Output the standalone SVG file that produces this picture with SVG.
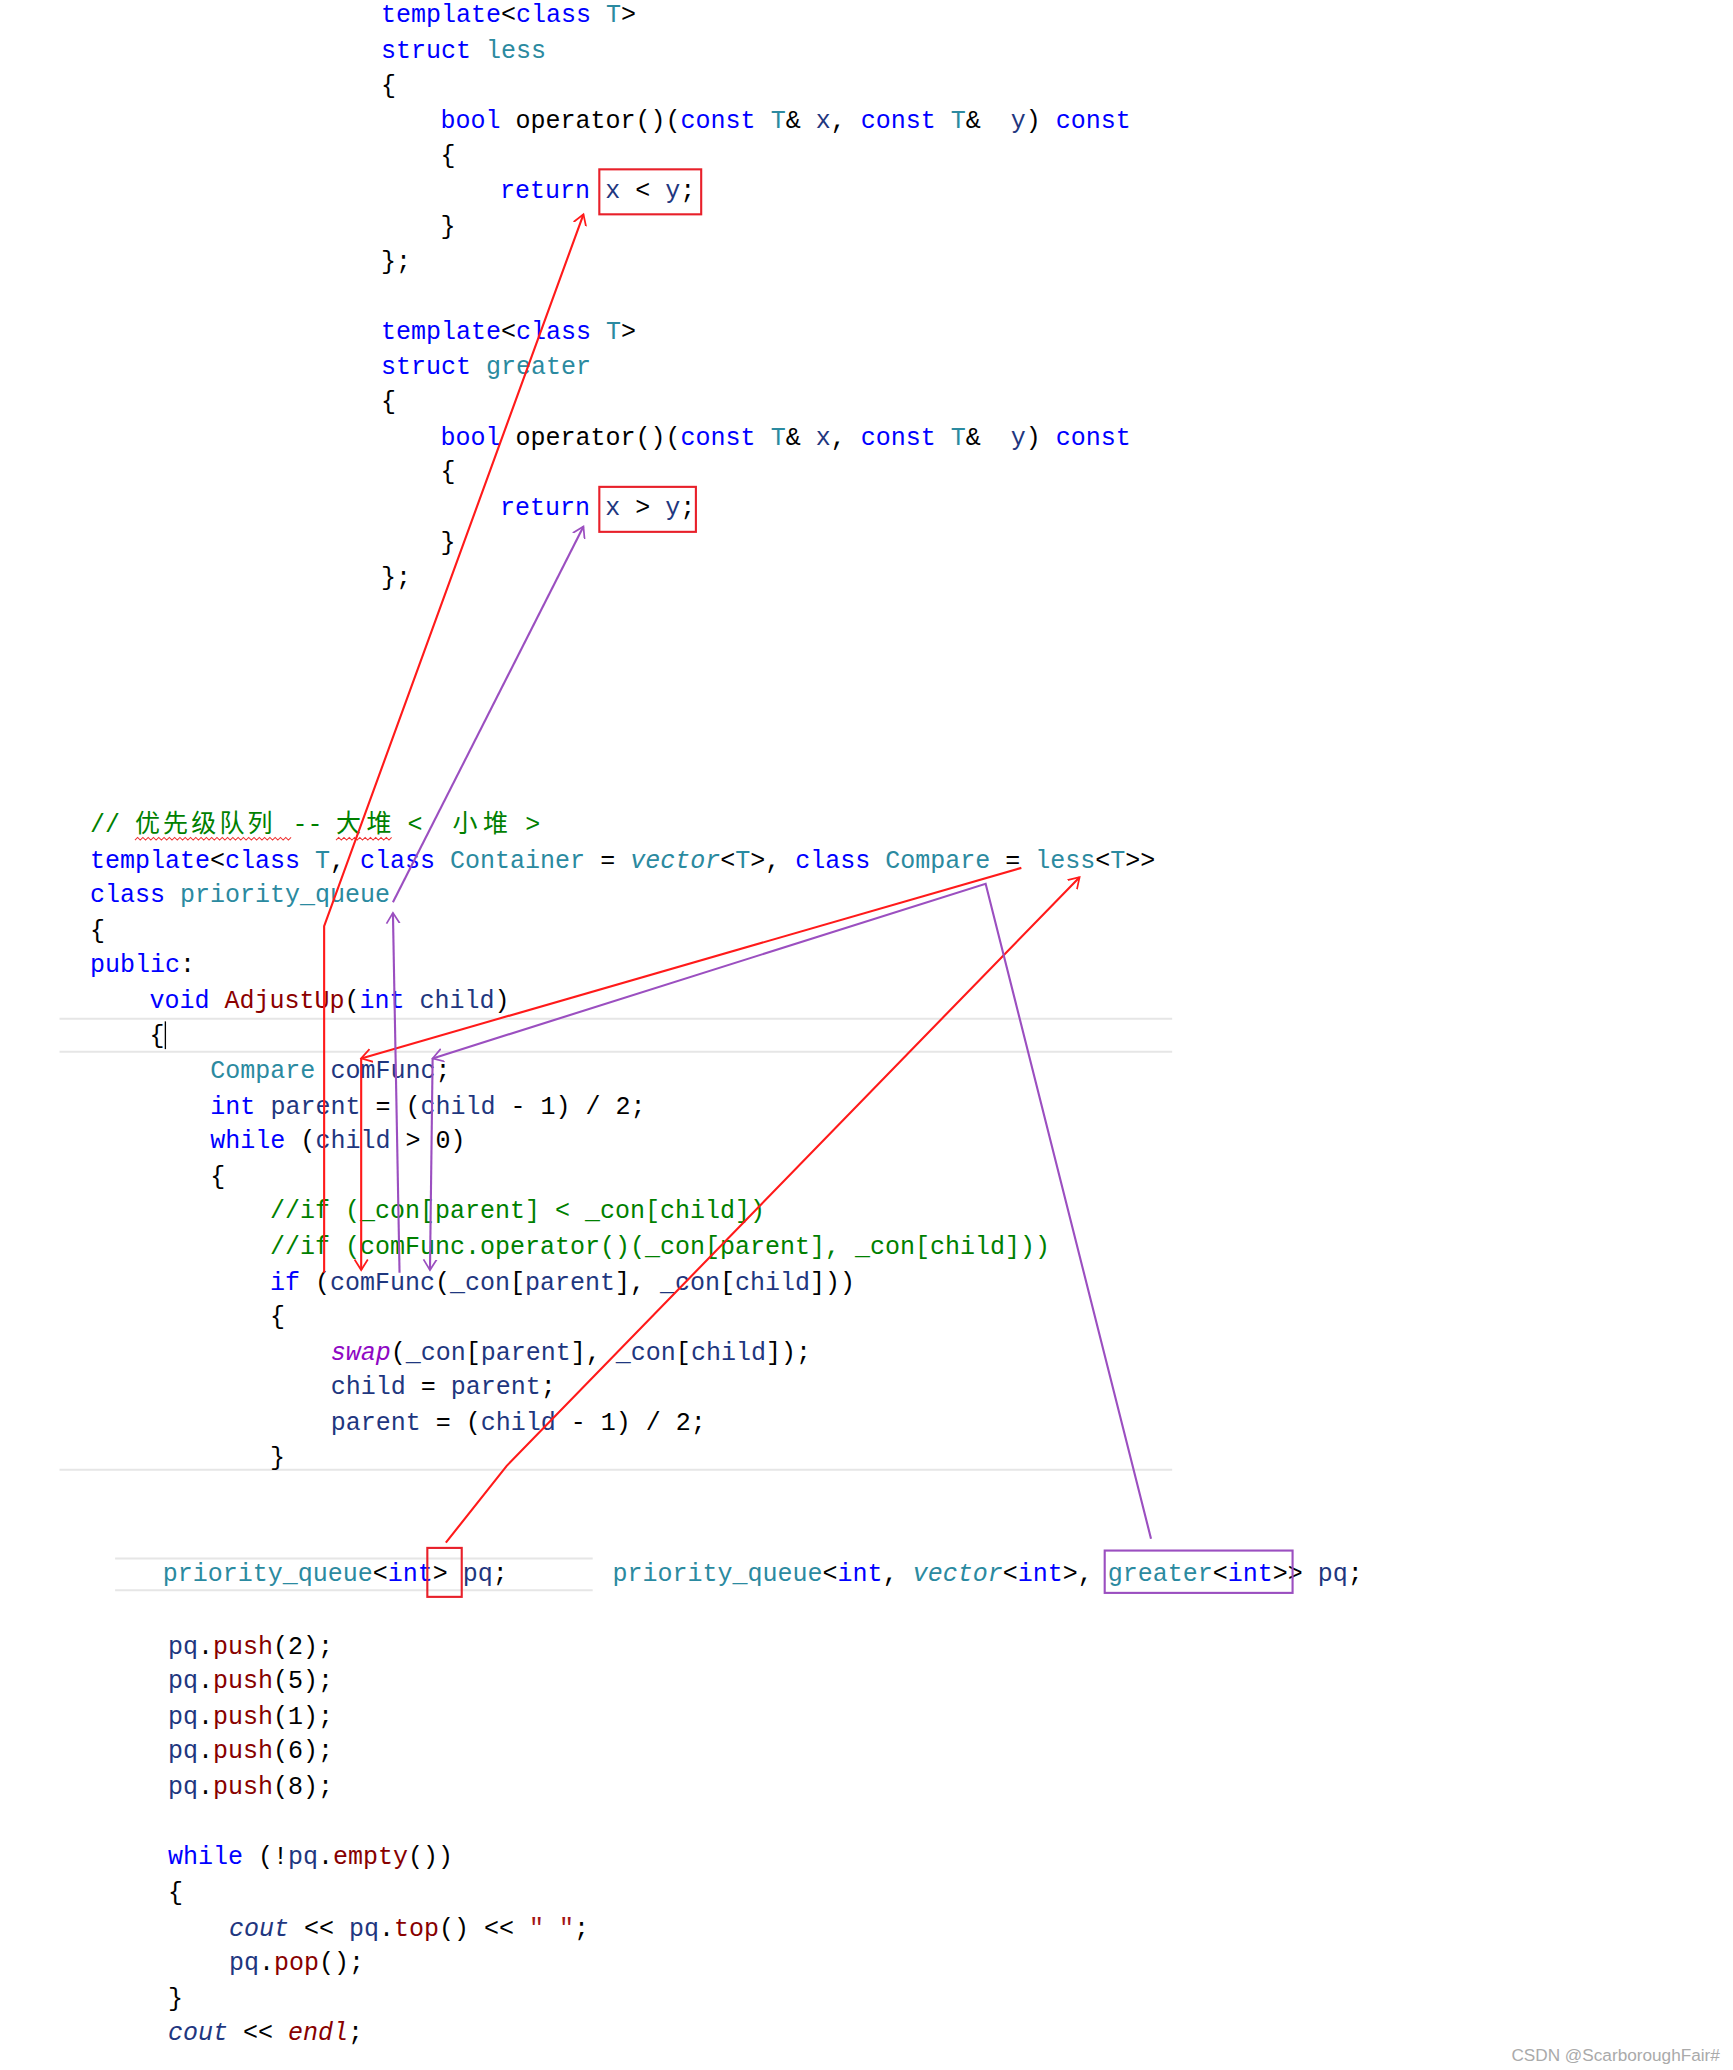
<svg xmlns="http://www.w3.org/2000/svg" width="1733" height="2070" viewBox="0 0 1733 2070">
<style>
text{font-family:"Liberation Mono","Noto Sans CJK SC",monospace;font-size:18.9px;white-space:pre;fill:#000}
.k{fill:#0000ff}.t{fill:#2b8aa0}.v{fill:#1f377f}.f{fill:#8b0000}.m{fill:#880000}.c{fill:#008000}.i{font-style:italic}.p{fill:#8f08c4}
.sep{stroke:#e6e6e6;stroke-width:1.5}
.red{stroke:#ff1a1a;stroke-width:1.6;fill:none}
.pur{stroke:#9b4fc0;stroke-width:1.6;fill:none}
</style>
<defs>
<marker id="ar" viewBox="-8 -6 10 12" refX="0" refY="0" markerWidth="10" markerHeight="12" markerUnits="userSpaceOnUse" orient="auto"><path d="M-8,-5 L0,0 L-8,5" fill="none" stroke="#ff1a1a" stroke-width="1.3"/></marker>
<marker id="ap" viewBox="-8 -6 10 12" refX="0" refY="0" markerWidth="10" markerHeight="12" markerUnits="userSpaceOnUse" orient="auto"><path d="M-8,-5 L0,0 L-8,5" fill="none" stroke="#9b4fc0" stroke-width="1.3"/></marker>
</defs>
<rect width="1733" height="2070" fill="#fff"/>
<g transform="scale(1.323)">
<g id="less">
<text x="288" y="17"><tspan class="k">template</tspan>&lt;<tspan class="k">class</tspan> <tspan class="t">T</tspan>&gt;</text>
<text x="288" y="44"><tspan class="k">struct</tspan> <tspan class="t">less</tspan></text>
<text x="288" y="70">{</text>
<text x="333" y="97"><tspan class="k">bool</tspan> operator()(<tspan class="k">const</tspan> <tspan class="t">T</tspan>&amp; <tspan class="v">x</tspan>, <tspan class="k">const</tspan> <tspan class="t">T</tspan>&amp;  <tspan class="v">y</tspan>) <tspan class="k">const</tspan></text>
<text x="333" y="123">{</text>
<text x="378" y="150"><tspan class="k">return</tspan> <tspan class="v">x</tspan> &lt; <tspan class="v">y</tspan>;</text>
<text x="333" y="177">}</text>
<text x="288" y="203">};</text>
<rect x="453" y="128" width="77" height="34" fill="none" stroke="#e8202a" stroke-width="1.6"/>
</g>
<g id="greater">
<text x="288" y="256"><tspan class="k">template</tspan>&lt;<tspan class="k">class</tspan> <tspan class="t">T</tspan>&gt;</text>
<text x="288" y="283"><tspan class="k">struct</tspan> <tspan class="t">greater</tspan></text>
<text x="288" y="309">{</text>
<text x="333" y="336"><tspan class="k">bool</tspan> operator()(<tspan class="k">const</tspan> <tspan class="t">T</tspan>&amp; <tspan class="v">x</tspan>, <tspan class="k">const</tspan> <tspan class="t">T</tspan>&amp;  <tspan class="v">y</tspan>) <tspan class="k">const</tspan></text>
<text x="333" y="362">{</text>
<text x="378" y="389"><tspan class="k">return</tspan> <tspan class="v">x</tspan> &gt; <tspan class="v">y</tspan>;</text>
<text x="333" y="416">}</text>
<text x="288" y="442">};</text>
<rect x="453" y="368" width="73" height="34" fill="none" stroke="#e8202a" stroke-width="1.6"/>
</g>
<g id="priority_queue">
<line class="sep" x1="45" y1="770" x2="886" y2="770"/>
<line class="sep" x1="45" y1="795" x2="886" y2="795"/>
<line class="sep" x1="45" y1="1111" x2="886" y2="1111"/>
<text y="629" class="c"><tspan x="68">//</tspan><tspan x="102" textLength="104" lengthAdjust="spacing">优先级队列</tspan><tspan x="221">--</tspan><tspan x="254" textLength="42" lengthAdjust="spacing">大堆</tspan><tspan x="308">&lt;</tspan><tspan x="342" textLength="42" lengthAdjust="spacing">小堆</tspan><tspan x="397">&gt;</tspan></text>
<path d="M102,635 l2,-2 2,2 2,-2 2,2 2,-2 2,2 2,-2 2,2 2,-2 2,2 2,-2 2,2 2,-2 2,2 2,-2 2,2 2,-2 2,2 2,-2 2,2 2,-2 2,2 2,-2 2,2 2,-2 2,2 2,-2 2,2 2,-2 2,2 2,-2 2,2 2,-2 2,2 2,-2 2,2 2,-2 2,2 2,-2 2,2 2,-2 2,2 2,-2 2,2 2,-2 2,2 2,-2 2,2 2,-2 2,2 2,-2 2,2 2,-2 2,2 2,-2 2,2 2,-2 2,2 2,-2" fill="none" stroke="#e33" stroke-width="0.8"/>
<path d="M254,635 l2,-2 2,2 2,-2 2,2 2,-2 2,2 2,-2 2,2 2,-2 2,2 2,-2 2,2 2,-2 2,2 2,-2 2,2 2,-2 2,2 2,-2 2,2 2,-2" fill="none" stroke="#e33" stroke-width="0.8"/>
<text x="68" y="656"><tspan class="k">template</tspan>&lt;<tspan class="k">class</tspan> <tspan class="t">T</tspan>, <tspan class="k">class</tspan> <tspan class="t">Container</tspan> = <tspan class="t i">vector</tspan>&lt;<tspan class="t">T</tspan>&gt;, <tspan class="k">class</tspan> <tspan class="t">Compare</tspan> = <tspan class="t">less</tspan>&lt;<tspan class="t">T</tspan>&gt;&gt;</text>
<text x="68" y="682"><tspan class="k">class</tspan> <tspan class="t">priority_queue</tspan></text>
<text x="68" y="709">{</text>
<text x="68" y="735"><tspan class="k">public</tspan>:</text>
<text x="113" y="762"><tspan class="k">void</tspan> <tspan class="f">AdjustUp</tspan>(<tspan class="k">int</tspan> <tspan class="v">child</tspan>)</text>
<text x="113" y="788">{</text>
<line x1="125" y1="772" x2="125" y2="793" stroke="#000" stroke-width="1"/>
<text x="159" y="815"><tspan class="t">Compare</tspan> <tspan class="v">comFunc</tspan>;</text>
<text x="159" y="842"><tspan class="k">int</tspan> <tspan class="v">parent</tspan> = (<tspan class="v">child</tspan> - 1) / 2;</text>
<text x="159" y="868"><tspan class="k">while</tspan> (<tspan class="v">child</tspan> &gt; 0)</text>
<text x="159" y="895">{</text>
<text x="204" y="921" class="c">//if (_con[parent] &lt; _con[child])</text>
<text x="204" y="948" class="c">//if (comFunc.operator()(_con[parent], _con[child]))</text>
<text x="204" y="975"><tspan class="k">if</tspan> (<tspan class="v">comFunc</tspan>(<tspan class="v">_con</tspan>[<tspan class="v">parent</tspan>], <tspan class="v">_con</tspan>[<tspan class="v">child</tspan>]))</text>
<text x="204" y="1001">{</text>
<text x="250" y="1028"><tspan class="p i">swap</tspan>(<tspan class="v">_con</tspan>[<tspan class="v">parent</tspan>], <tspan class="v">_con</tspan>[<tspan class="v">child</tspan>]);</text>
<text x="250" y="1054"><tspan class="v">child</tspan> = <tspan class="v">parent</tspan>;</text>
<text x="250" y="1081"><tspan class="v">parent</tspan> = (<tspan class="v">child</tspan> - 1) / 2;</text>
<text x="204" y="1107">}</text>
</g>
<g id="usage">
<line class="sep" x1="87" y1="1178" x2="448" y2="1178"/>
<line class="sep" x1="87" y1="1202" x2="448" y2="1202"/>
<text x="123" y="1195"><tspan class="t">priority_queue</tspan>&lt;<tspan class="k">int</tspan>&gt; <tspan class="v">pq</tspan>;</text>
<rect x="323" y="1170" width="26" height="37" fill="none" stroke="#e8202a" stroke-width="1.6"/>
<text x="463" y="1195"><tspan class="t">priority_queue</tspan>&lt;<tspan class="k">int</tspan>, <tspan class="t i">vector</tspan>&lt;<tspan class="k">int</tspan>&gt;, <tspan class="t">greater</tspan>&lt;<tspan class="k">int</tspan>&gt;&gt; <tspan class="v">pq</tspan>;</text>
<rect x="835" y="1172" width="142" height="32" fill="none" stroke="#9b4fc0" stroke-width="1.6"/>
<text x="127" y="1250"><tspan class="v">pq</tspan>.<tspan class="m">push</tspan>(2);</text>
<text x="127" y="1276"><tspan class="v">pq</tspan>.<tspan class="m">push</tspan>(5);</text>
<text x="127" y="1303"><tspan class="v">pq</tspan>.<tspan class="m">push</tspan>(1);</text>
<text x="127" y="1329"><tspan class="v">pq</tspan>.<tspan class="m">push</tspan>(6);</text>
<text x="127" y="1356"><tspan class="v">pq</tspan>.<tspan class="m">push</tspan>(8);</text>
<text x="127" y="1409"><tspan class="k">while</tspan> (!<tspan class="v">pq</tspan>.<tspan class="m">empty</tspan>())</text>
<text x="127" y="1436">{</text>
<text x="173" y="1463"><tspan class="v i">cout</tspan> &lt;&lt; <tspan class="v">pq</tspan>.<tspan class="m">top</tspan>() &lt;&lt; <tspan fill="#a31515">" "</tspan>;</text>
<text x="173" y="1489"><tspan class="v">pq</tspan>.<tspan class="m">pop</tspan>();</text>
<text x="127" y="1516">}</text>
<text x="127" y="1542"><tspan class="v i">cout</tspan> &lt;&lt; <tspan class="m i">endl</tspan>;</text>
</g>
<g id="connectors">
<polyline class="red" points="337,1166 383,1108 816,663" marker-end="url(#ar)"/>
<polyline class="red" points="772,656 273,800" marker-end="url(#ar)"/>
<polyline class="red" points="273,800 273,960" marker-end="url(#ar)"/>
<polyline class="red" points="245,962 245,700 441,162" marker-end="url(#ar)"/>
<polyline class="pur" points="870,1163 745,668 327,800" marker-end="url(#ap)"/>
<polyline class="pur" points="327,800 325,960" marker-end="url(#ap)"/>
<polyline class="pur" points="302,962 297,690" marker-end="url(#ap)"/>
<polyline class="pur" points="297,682 441,398" marker-end="url(#ap)"/>
</g>
<text x="1300" y="1558" text-anchor="end" style="font-family:'Liberation Sans',sans-serif;font-size:13px;fill:#aaa">CSDN @ScarboroughFair#</text>
</g>
</svg>
